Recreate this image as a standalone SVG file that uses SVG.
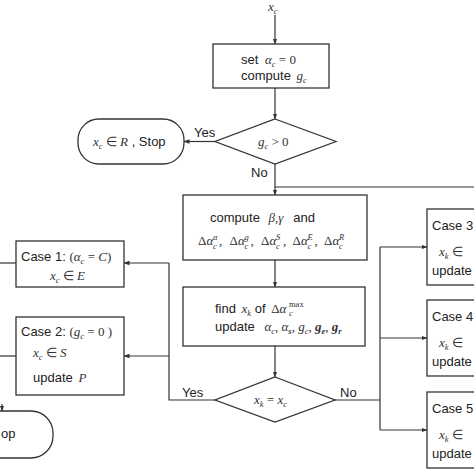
<svg xmlns="http://www.w3.org/2000/svg" width="474" height="474" viewBox="0 0 474 474">
<defs>
<marker id="ah" markerWidth="6" markerHeight="6" refX="5.5" refY="3" orient="auto" markerUnits="userSpaceOnUse">
<path d="M0,0.8 L6,3 L0,5.2 Z" fill="#333"/>
</marker>
<style>
.box{fill:#fff;stroke:#333;stroke-width:1.3}
.ln{fill:none;stroke:#333;stroke-width:1.2}
.arr{fill:none;stroke:#333;stroke-width:1.2;marker-end:url(#ah)}
.t{font-family:"Liberation Sans",Arial,sans-serif;font-size:13px;fill:#222}
.m{font-family:"Liberation Serif","Times New Roman",serif;font-style:italic;font-size:13px;fill:#333}
.mr{font-family:"Liberation Serif","Times New Roman",serif;font-style:normal;font-size:13px;fill:#333}
.s{font-size:8.5px}
</style>
</defs>
<rect width="474" height="474" fill="#fff"/>

<g id="connectors">
<path class="arr" d="M275,15 L275,44"/>
<path class="arr" d="M275,88 L275,119"/>
<path class="arr" d="M215,141.5 L184,141.5"/>
<path class="arr" d="M275,164 L275,195"/>
<path class="ln" d="M275,187 L474,187"/>
<path class="arr" d="M275,260 L275,287"/>
<path class="arr" d="M275,346 L275,377"/>
<path class="ln" d="M215,400 L169,400 L169,263"/>
<path class="arr" d="M169,263 L124,263"/>
<path class="arr" d="M169,356 L124,356"/>
<path class="ln" d="M335,400 L380,400"/>
<path class="ln" d="M380,247 L380,430"/>
<path class="arr" d="M380,247 L427,247"/>
<path class="arr" d="M380,338 L427,338"/>
<path class="arr" d="M380,430 L427,430"/>
<path class="ln" d="M0,263 L16,263"/>
<path class="ln" d="M0,356 L16,356"/>
<path class="arr" d="M2,404 L2,411"/>
<text class="t" x="194" y="137">Yes</text>
<text class="t" x="251" y="177">No</text>
<text class="t" x="182" y="397">Yes</text>
<text class="t" x="340" y="397">No</text>
</g>

<g id="start">
<text class="m" x="268" y="11">x<tspan class="s" dy="2.5">c</tspan></text>
</g>

<g id="init">
<rect class="box" x="213" y="44" width="116" height="44"/>
<text class="t" x="241" y="64">set <tspan class="m" dx="3">α</tspan><tspan class="m s" dy="2.5">c</tspan><tspan class="mr" dy="-2.5"> = 0</tspan></text>
<text class="t" x="241" y="80">compute <tspan class="m" dx="2">g</tspan><tspan class="m s" dy="2.5">c</tspan></text>
</g>

<g id="dec1">
<polygon class="box" points="275,119 336,141.5 275,164 215,141.5"/>
<text class="m" x="258" y="146">g<tspan class="s" dy="2.5">c</tspan><tspan class="mr" dy="-2.5"> &gt; 0</tspan></text>
</g>

<g id="stop1">
<rect class="box" x="78" y="119" width="106" height="45" rx="21"/>
<text class="m" x="93" y="146">x<tspan class="s" dy="2.5">c</tspan><tspan class="mr" dy="-2.5"> ∈ </tspan><tspan>R</tspan><tspan class="t" font-style="normal"> , Stop</tspan></text>
</g>

<g id="compute">
<rect class="box" x="183" y="195" width="184" height="65"/>
<text class="t" x="210" y="222">compute <tspan class="m" dx="5">β</tspan><tspan class="mr">,</tspan><tspan class="m">γ</tspan><tspan dx="10">and</tspan></text>
<text class="mr" x="198" y="245">Δ<tspan class="m">α</tspan></text>
<text class="m s" x="213" y="239.5">α</text><text class="m s" x="213" y="249">c</text><text class="mr" x="219" y="245">,</text>
<text class="mr" x="229.5" y="245">Δ<tspan class="m">α</tspan></text>
<text class="m s" x="244.5" y="239.5">g</text><text class="m s" x="244.5" y="249">c</text><text class="mr" x="250.5" y="245">,</text>
<text class="mr" x="261" y="245">Δ<tspan class="m">α</tspan></text>
<text class="m s" x="276" y="239.5">S</text><text class="m s" x="276" y="249">c</text><text class="mr" x="283" y="245">,</text>
<text class="mr" x="292.5" y="245">Δ<tspan class="m">α</tspan></text>
<text class="m s" x="307.5" y="239.5">E</text><text class="m s" x="307.5" y="249">c</text><text class="mr" x="314.5" y="245">,</text>
<text class="mr" x="324" y="245">Δ<tspan class="m">α</tspan></text>
<text class="m s" x="339" y="239.5">R</text><text class="m s" x="339" y="249">c</text>
</g>

<g id="find">
<rect class="box" x="183" y="287" width="182" height="59"/>
<text class="t" x="215" y="313">find <tspan class="m" dx="2">x</tspan><tspan class="m s" dy="2.5">k</tspan><tspan dy="-2.5"> of </tspan><tspan class="mr" dx="2">Δ</tspan><tspan class="m">α</tspan></text>
<text class="mr s" x="289" y="307">max</text><text class="m s" x="289" y="316">c</text>
<text class="t" x="215" y="331">update <tspan class="m" dx="6">α</tspan><tspan class="m s" dy="2.5">c</tspan><tspan class="mr" dy="-2.5">, </tspan><tspan class="m">α</tspan><tspan class="m s" dy="2.5" font-weight="bold">s</tspan><tspan class="mr" dy="-2.5">, </tspan><tspan class="m">g</tspan><tspan class="m s" dy="2.5">c</tspan><tspan class="mr" dy="-2.5">, </tspan><tspan class="m" font-weight="bold">g</tspan><tspan class="m s" dy="2.5" font-weight="bold">e</tspan><tspan class="mr" dy="-2.5">, </tspan><tspan class="m" font-weight="bold">g</tspan><tspan class="m s" dy="2.5" font-weight="bold">r</tspan></text>
</g>

<g id="dec2">
<polygon class="box" points="275,377 335,400 275,422 215,400"/>
<text class="m" x="254" y="404">x<tspan class="s" dy="2.5">k</tspan><tspan class="mr" dy="-2.5"> = </tspan><tspan>x</tspan><tspan class="s" dy="2.5">c</tspan></text>
</g>

<g id="case1">
<rect class="box" x="16" y="241" width="108" height="46"/>
<text class="t" x="21" y="261">Case 1: <tspan class="mr">(</tspan><tspan class="m">α</tspan><tspan class="m s" dy="2.5">c</tspan><tspan class="mr" dy="-2.5"> = </tspan><tspan class="m">C</tspan><tspan class="mr">)</tspan></text>
<text class="m" x="50" y="280">x<tspan class="s" dy="2.5">c</tspan><tspan class="mr" dy="-2.5"> ∈ </tspan><tspan>E</tspan></text>
</g>

<g id="case2">
<rect class="box" x="16" y="317" width="108" height="78"/>
<text class="t" x="21" y="336">Case 2: <tspan class="mr">(</tspan><tspan class="m">g</tspan><tspan class="m s" dy="2.5">c</tspan><tspan class="mr" dy="-2.5"> = 0 )</tspan></text>
<text class="m" x="33" y="357">x<tspan class="s" dy="2.5">c</tspan><tspan class="mr" dy="-2.5"> ∈ </tspan><tspan>S</tspan></text>
<text class="t" x="33" y="382">update <tspan class="m" dx="2">P</tspan></text>
</g>

<g id="stop2">
<rect class="box" x="-60" y="411" width="113" height="47" rx="22"/>
<text class="t" x="1" y="438">op</text>
</g>

<g id="case3">
<rect class="box" x="427" y="209" width="80" height="76"/>
<text class="t" x="432" y="230">Case 3</text>
<text class="m" x="439" y="256">x<tspan class="s" dy="2.5">k</tspan><tspan class="mr" dy="-2.5"> ∈</tspan></text>
<text class="t" x="432" y="275">update</text>
</g>

<g id="case4">
<rect class="box" x="427" y="300" width="80" height="76"/>
<text class="t" x="432" y="321">Case 4</text>
<text class="m" x="439" y="347">x<tspan class="s" dy="2.5">k</tspan><tspan class="mr" dy="-2.5"> ∈</tspan></text>
<text class="t" x="432" y="366">update</text>
</g>

<g id="case5">
<rect class="box" x="427" y="392" width="80" height="76"/>
<text class="t" x="432" y="413">Case 5</text>
<text class="m" x="439" y="439">x<tspan class="s" dy="2.5">k</tspan><tspan class="mr" dy="-2.5"> ∈</tspan></text>
<text class="t" x="432" y="458">update</text>
</g>
</svg>
